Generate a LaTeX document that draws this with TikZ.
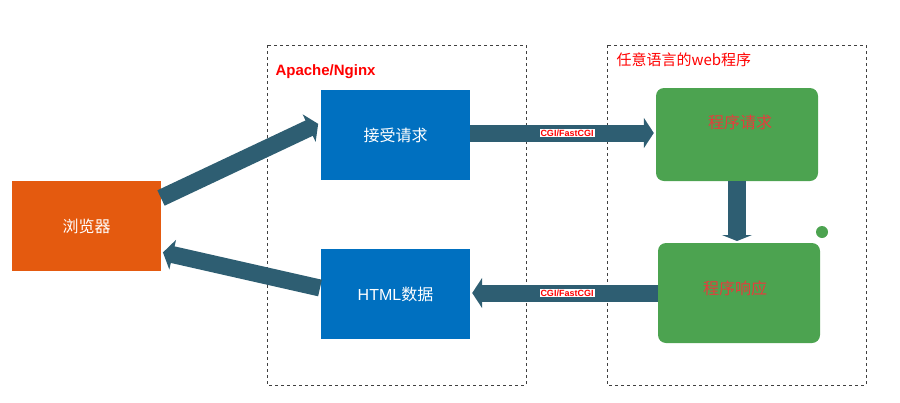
\documentclass[tikz,border=0pt]{standalone}
\usepackage{fontspec}
\setmainfont{Liberation Sans}
\newfontfamily\cjk{Noto Sans CJK SC}
\usetikzlibrary{arrows.meta}
\definecolor{org}{RGB}{228,90,15}
\definecolor{blu}{RGB}{0,112,192}
\definecolor{grn}{RGB}{76,163,80}
\definecolor{teal}{RGB}{46,94,114}
\definecolor{txr}{RGB}{230,60,60}
\begin{document}
\begin{tikzpicture}[x=1pt,y=-1pt,
  box/.style={draw=none,minimum width=149pt,minimum height=90pt,inner sep=0pt},
  dbox/.style={draw=black!75,dashed,line width=1pt},
  arr/.style={draw=teal,line width=17pt,-{Triangle[width=30pt,length=10pt]},shorten >=2pt},
  lab/.style={fill=white,text=red,font=\bfseries\fontsize{9}{10}\selectfont,inner sep=1pt}]
\useasboundingbox (0,0) rectangle (900,402);
\draw[dbox] (267,45) rectangle (526,385);
\draw[dbox] (607,45) rectangle (866,385);
\node[anchor=west,text=red,font=\bfseries\fontsize{15}{16}\selectfont] (t1) at (272,72) {Apache/Nginx};
\node[anchor=west,text=red,font=\cjk\fontsize{15}{16}\selectfont] (t2) at (613,60) {任意语言的web程序};
\node[box,fill=org,text=white,font=\cjk\fontsize{16}{18}\selectfont] (b) at (86.5,226) {浏览器};
\node[box,fill=blu,text=white,font=\cjk\fontsize{16}{18}\selectfont] (r) at (395.5,135) {接受请求};
\node[box,fill=blu,text=white,font=\fontsize{16}{18}\selectfont] (h) at (395.5,294) {HTML{\cjk 数据}};
\node[box,fill=grn,rounded corners=8pt,minimum width=162pt,minimum height=93pt] (p) at (737,134.5) {};
\node[text=txr,font=\cjk\fontsize{16}{18}\selectfont] (pt) at (740,122) {程序请求};
\node[box,fill=grn,rounded corners=8pt,minimum width=162pt,minimum height=100pt] (q) at (739,293) {};
\node[text=txr,font=\cjk\fontsize{16}{18}\selectfont] (qt) at (735,288) {程序响应};
\fill[grn] (822,232) circle (6pt);
\coordinate (b1) at (161,198);
\coordinate (r1) at (320,123);
\coordinate (h1) at (320,288);
\coordinate (b2) at (161,252);
\draw[arr] (b1) -- (r1);
\draw[arr] (h1) -- (b2);
\draw[arr] (r.east|-0,133) -- (p.west|-0,133);
\draw[arr] (q.west|-0,293) -- (h.east|-0,293);
\draw[arr,line width=18pt,-{Triangle[width=30pt,length=6pt]}] (737,181) -- (737,243);
\node[lab] (c1) at (567,133) {CGI/FastCGI};
\node[lab] (c2) at (567,293) {CGI/FastCGI};
\end{tikzpicture}
\end{document}
